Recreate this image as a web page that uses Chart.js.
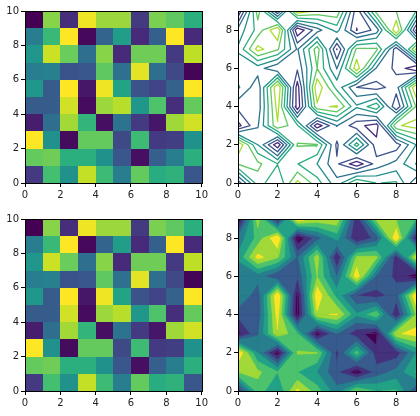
<!DOCTYPE html>
<html>
<head>
<meta charset="utf-8">
<script src="https://cdn.jsdelivr.net/npm/chart.js@4"></script>
<style>
    body { margin: 0; background: #fff; width: 420px; height: 416px; overflow: hidden; position: relative; }
    canvas { position: absolute; }
</style>
</head>
<body>
<canvas id="mesh-top" width="210" height="208" style="left:0;top:0"></canvas>
<canvas id="lines" width="210" height="208" style="left:210px;top:0"></canvas>
<canvas id="mesh-bottom" width="210" height="208" style="left:0;top:208px"></canvas>
<canvas id="filled" width="210" height="208" style="left:210px;top:208px"></canvas>
<script>
// values, row y=0 first
const row0 = [0.17, 0.70, 0.50, 0.91, 0.68, 0.42, 0.76, 0.62, 0.64, 0.27];
const row1 = [0.76, 0.78, 0.63, 0.63, 0.50, 0.27, 0.04, 0.30, 0.42, 0.63];
const row2 = [1.00, 0.50, 0.03, 0.76, 0.76, 0.22, 0.68, 0.17, 0.18, 0.50];
const row3 = [0.08, 0.36, 0.86, 0.65, 0.04, 0.38, 0.17, 0.06, 0.855, 0.93];
const row4 = [0.29, 0.29, 0.93, 0.03, 0.85, 0.89, 0.52, 0.72, 0.13, 0.76];
const row5 = [0.52, 0.29, 1.00, 0.06, 0.98, 0.58, 0.25, 0.20, 0.31, 1.00];
const row6 = [0.42, 0.43, 0.26, 0.27, 0.75, 0.37, 0.96, 0.36, 0.22, 0.01];
const row7 = [0.52, 0.92, 0.77, 0.36, 0.82, 0.12, 0.78, 0.78, 0.17, 0.90];
const row8 = [0.42, 0.67, 1.00, 0.02, 0.32, 0.55, 0.12, 0.30, 1.00, 0.12];
const row9 = [0.00, 0.82, 0.13, 0.98, 0.85, 0.85, 0.17, 0.80, 0.75, 0.63];
const grid = [row0, row1, row2, row3, row4, row5, row6, row7, row8, row9];

const meshTicks = [0, 2, 4, 6, 8, 10];
const contourTicks = [0, 2, 4, 6, 8];
const lineLevels = [0.125, 0.25, 0.375, 0.5, 0.625, 0.75, 0.875];
const fillLevels = [0, 0.125, 0.25, 0.375, 0.5, 0.625, 0.75, 0.875];

const viridisStops = ['#440154', '#482475', '#414487', '#355f8d', '#2a788e', '#21918c', '#22a884', '#44bf70', '#7ad151', '#bddf26', '#fde725'];

function viridis(t) {
    let p = Math.min(Math.max(t, 0), 1) * (viridisStops.length - 1);
    let i = Math.min(Math.floor(p), viridisStops.length - 2);
    let f = p - i;
    let a = viridisStops[i], b = viridisStops[i + 1];
    let out = [1, 3, 5].map(k => {
        let c0 = parseInt(a.substr(k, 2), 16), c1 = parseInt(b.substr(k, 2), 16);
        return Math.round(c0 + (c1 - c0) * f);
    });
    return 'rgb(' + out.join(',') + ')';
}

// crossing point between two corners, or null if level is not between them
function crossing(p, q, level) {
    if ((p.z >= level) === (q.z >= level)) return null;
    let f = (level - p.z) / (q.z - p.z);
    return { x: p.x + (q.x - p.x) * f, y: p.y + (q.y - p.y) * f };
}

function cellCorners(c, r) {
    return [
        { x: c, y: r, z: grid[r][c] },
        { x: c + 1, y: r, z: grid[r][c + 1] },
        { x: c + 1, y: r + 1, z: grid[r + 1][c + 1] },
        { x: c, y: r + 1, z: grid[r + 1][c] }
    ];
}

function cellMean(q) {
    return (q[0].z + q[1].z + q[2].z + q[3].z) / 4;
}

// marching squares, one dataset per level with gaps between the pieces
function contourPoints(level) {
    let pts = [];
    let push = (a, b) => { pts.push(a, b, { x: NaN, y: NaN }); };
    for (let r = 0; r < grid.length - 1; r++) {
        for (let c = 0; c < grid[r].length - 1; c++) {
            let q = cellCorners(c, r);
            let hits = [];
            for (let k = 0; k < 4; k++) {
                let h = crossing(q[k], q[(k + 1) % 4], level);
                if (h) hits.push(h);
            }
            if (hits.length === 2) {
                push(hits[0], hits[1]);
            } else if (hits.length === 4) {
                // saddle, the cell mean decides how to join
                if ((cellMean(q) >= level) === (q[0].z >= level)) {
                    push(hits[0], hits[1]);
                    push(hits[2], hits[3]);
                } else {
                    push(hits[3], hits[0]);
                    push(hits[1], hits[2]);
                }
            }
        }
    }
    return pts;
}

// part of a cell at or above level, two pieces on a low saddle
function cellPolygonsAbove(c, r, level) {
    let q = cellCorners(c, r);
    let poly = [];
    let pieces = [];
    for (let k = 0; k < 4; k++) {
        let prev = (k + 3) % 4, next = (k + 1) % 4;
        if (q[k].z >= level) {
            let before = crossing(q[prev], q[k], level);
            let after = crossing(q[k], q[next], level);
            if (before && after) pieces.push([before, q[k], after]);
            poly.push(q[k]);
        }
        let h = crossing(q[k], q[next], level);
        if (h) poly.push(h);
    }
    if (pieces.length === 2 && cellMean(q) < level) return pieces;
    return [poly];
}

const framePlugin = {
    id: 'frame',
    afterDatasetsDraw(chart) {
        let a = chart.chartArea, ctx = chart.ctx;
        ctx.save();
        ctx.strokeStyle = '#000';
        ctx.lineWidth = 1;
        ctx.strokeRect(Math.round(a.left) + 0.5, Math.round(a.top) + 0.5, Math.round(a.right - a.left), Math.round(a.bottom - a.top));
        ctx.restore();
    }
};

const meshPlugin = {
    id: 'mesh',
    beforeDatasetsDraw(chart) {
        let ctx = chart.ctx, sx = chart.scales.x, sy = chart.scales.y;
        chart.data.datasets[0].data.forEach(cell => {
            let x0 = sx.getPixelForValue(cell.x - 0.5), x1 = sx.getPixelForValue(cell.x + 0.5);
            let y0 = sy.getPixelForValue(cell.y + 0.5), y1 = sy.getPixelForValue(cell.y - 0.5);
            ctx.fillStyle = viridis(cell.v);
            ctx.fillRect(Math.round(x0), Math.round(y0), Math.round(x1) - Math.round(x0), Math.round(y1) - Math.round(y0));
        });
    }
};

const fillPlugin = {
    id: 'contourFill',
    beforeDatasetsDraw(chart) {
        let ctx = chart.ctx, sx = chart.scales.x, sy = chart.scales.y, a = chart.chartArea;
        ctx.save();
        ctx.beginPath();
        ctx.rect(a.left, a.top, a.right - a.left, a.bottom - a.top);
        ctx.clip();
        fillLevels.forEach((level, i) => {
            let col = viridis(i / (fillLevels.length - 1));
            ctx.fillStyle = col;
            ctx.strokeStyle = col;
            ctx.lineWidth = 0.4;
            for (let r = 0; r < grid.length - 1; r++) {
                for (let c = 0; c < grid[r].length - 1; c++) {
                    cellPolygonsAbove(c, r, level).forEach(poly => {
                        if (poly.length < 3) return;
                        ctx.beginPath();
                        poly.forEach((p, n) => {
                            let px = sx.getPixelForValue(p.x), py = sy.getPixelForValue(p.y);
                            if (n === 0) ctx.moveTo(px, py); else ctx.lineTo(px, py);
                        });
                        ctx.closePath();
                        ctx.fill();
                        ctx.stroke();
                    });
                }
            }
        });
        ctx.restore();
    }
};

function axis(max, ticks, side, size) {
    return {
        type: 'linear',
        min: 0,
        max: max,
        afterBuildTicks: scale => { scale.ticks = ticks.map(v => ({ value: v })); },
        afterFit: scale => { if (side === 'x') scale.height = size; else scale.width = size; },
        grid: { drawOnChartArea: false, drawTicks: true, tickLength: 4, color: '#000', tickWidth: 1 },
        border: { display: true, color: '#000' },
        ticks: {
            color: '#222',
            padding: 2,
            autoSkip: false,
            maxRotation: 0,
            font: { family: 'DejaVu Sans', size: 10 },
            callback: v => String(v)
        }
    };
}

function makeChart(id, datasets, max, ticks, pad, plugins) {
    return new Chart(document.getElementById(id), {
        type: 'scatter',
        data: { datasets: datasets },
        options: {
            responsive: false,
            animation: false,
            layout: { padding: { left: 0, bottom: 0, top: pad.top, right: pad.right } },
            plugins: { legend: { display: false }, tooltip: { enabled: false } },
            scales: {
                x: axis(max, ticks, 'x', pad.bottom),
                y: axis(max, ticks, 'y', pad.left)
            }
        },
        plugins: plugins
    });
}

function meshDataset() {
    let cells = [];
    grid.forEach((row, r) => row.forEach((v, c) => cells.push({ x: c + 0.5, y: r + 0.5, v: v })));
    return [{ data: cells, pointRadius: 0, showLine: false }];
}

let lineSets = lineLevels.map(level => ({
    data: contourPoints(level),
    showLine: true,
    spanGaps: false,
    pointRadius: 0,
    borderWidth: 1.3,
    borderCapStyle: 'round',
    borderColor: viridis(level)
}));

let leftPad = { left: 25, right: 8, top: 11, bottom: 25 };
let rightPad = { left: 28, right: 4, top: 11, bottom: 25 };

makeChart('mesh-top', meshDataset(), 10, meshTicks, leftPad, [meshPlugin, framePlugin]);
makeChart('lines', lineSets, 9, contourTicks, rightPad, [framePlugin]);
makeChart('mesh-bottom', meshDataset(), 10, meshTicks, leftPad, [meshPlugin, framePlugin]);
makeChart('filled', [{ data: [], pointRadius: 0 }], 9, contourTicks, rightPad, [fillPlugin, framePlugin]);
</script>
</body>
</html>
